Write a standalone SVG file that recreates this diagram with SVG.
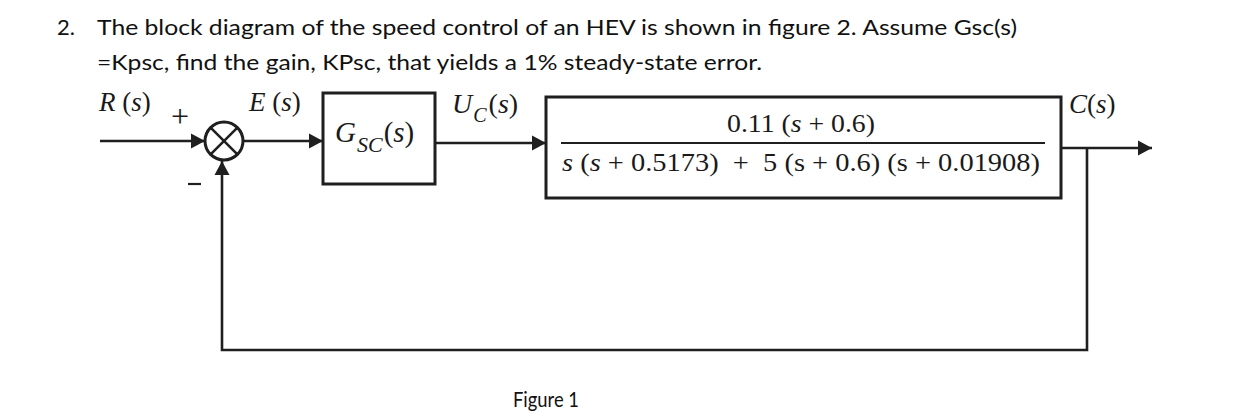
<svg xmlns="http://www.w3.org/2000/svg" width="1236" height="420" viewBox="0 0 1236 420">
<style>
.q{font-family:Lato,"Open Sans","Liberation Sans",sans-serif;font-size:22px;fill:#111}
.m{font-family:"Liberation Serif","Times New Roman",serif;fill:#1a1a1a}
.it{font-style:italic}
.ln{fill:none;stroke:#1f1f1f;stroke-width:2.6}
.bx{fill:#fff;stroke:#1f1f1f;stroke-width:3}
</style>
<defs>
<marker id="ah" markerUnits="userSpaceOnUse" markerWidth="16" markerHeight="16" refX="14" refY="8" orient="auto">
<path d="M0,0.5 L14,8 L0,15.5 Z" fill="#1f1f1f"/>
</marker>
</defs>
<rect width="1236" height="420" fill="#fff"/>
<g id="question">
<text class="q" x="57" y="35">2.</text>
<text class="q" x="97" y="35" textLength="920" lengthAdjust="spacingAndGlyphs">The block diagram of the speed control of an HEV is shown in figure 2. Assume Gsc(s)</text>
<text class="q" x="97" y="70" textLength="665" lengthAdjust="spacingAndGlyphs">=Kpsc, find the gain, KPsc, that yields a 1% steady-state error.</text>
</g>
<g id="connectors">
<path class="ln" d="M100,141 H205" marker-end="url(#ah)"/>
<path class="ln" d="M243,141 H323" marker-end="url(#ah)"/>
<path class="ln" d="M435,143 H546" marker-end="url(#ah)"/>
<path class="ln" d="M1061,148 H1152" marker-end="url(#ah)"/>
<path class="ln" d="M1087,148 V350 H222 V161" marker-end="url(#ah)"/>
</g>
<g id="sum">
<circle cx="224" cy="141" r="19" fill="#fff" stroke="#1f1f1f" stroke-width="3"/>
<path class="ln" d="M210.6,127.6 L237.4,154.4 M237.4,127.6 L210.6,154.4" stroke-width="2.8"/>
<text class="m" x="171" y="127" font-size="32">+</text>
<path d="M188,184 H201" stroke="#1f1f1f" stroke-width="2.2"/>
</g>
<g id="gsc">
<rect class="bx" x="323" y="93" width="112" height="91"/>
<text class="m it" x="335" y="142" font-size="29">G<tspan font-size="22" dx="1" dy="10">SC</tspan><tspan font-style="normal" dx="1" dy="-10">(</tspan>s<tspan font-style="normal">)</tspan></text>
</g>
<g id="plant">
<rect class="bx" x="546" y="97" width="515" height="101"/>
<path d="M561,143 H1045" stroke="#1f1f1f" stroke-width="2.2"/>
<text class="m" x="727" y="132" font-size="26" textLength="148" lengthAdjust="spacingAndGlyphs">0.11 (<tspan font-style="italic">s</tspan> + 0.6)</text>
<text class="m" x="562" y="171" font-size="26" textLength="478" lengthAdjust="spacingAndGlyphs" xml:space="preserve"><tspan font-style="italic">s</tspan> (<tspan font-style="italic">s</tspan> + 0.5173)  +  5 (s + 0.6) (s + 0.01908)</text>
</g>
<g id="labels">
<text class="m it" x="99" y="111" font-size="27">R <tspan font-style="normal">(</tspan>s<tspan font-style="normal">)</tspan></text>
<text class="m it" x="249" y="111" font-size="27">E <tspan font-style="normal">(</tspan>s<tspan font-style="normal">)</tspan></text>
<text class="m it" x="452" y="113" font-size="28">U<tspan font-size="20" dx="1" dy="9">C</tspan><tspan font-style="normal" dx="2" dy="-9">(</tspan>s<tspan font-style="normal">)</tspan></text>
<text class="m it" x="1069" y="113" font-size="27">C<tspan font-style="normal">(</tspan>s<tspan font-style="normal">)</tspan></text>
</g>
<g id="caption">
<text class="q" x="513" y="407" textLength="66" lengthAdjust="spacingAndGlyphs">Figure 1</text>
</g>
</svg>
